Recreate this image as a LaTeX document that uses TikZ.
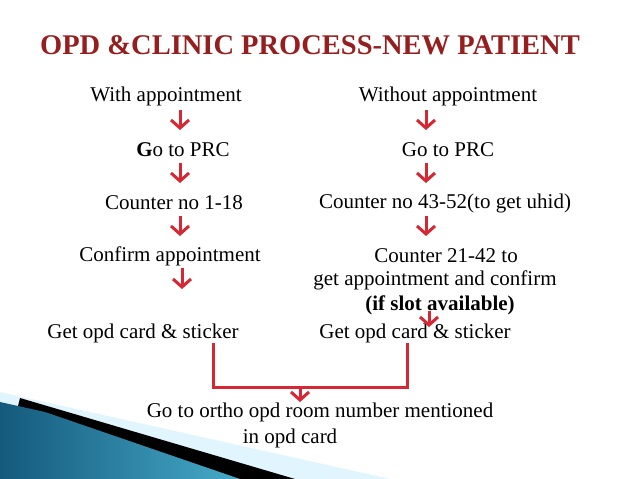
\documentclass[tikz,border=0pt]{standalone}
\usepackage{fontspec}
\setmainfont{Liberation Serif}
\usetikzlibrary{arrows.meta}
\definecolor{rd}{RGB}{214,40,52}
\definecolor{ttl}{RGB}{150,30,30}
\definecolor{tealA}{RGB}{20,90,125}
\definecolor{tealB}{RGB}{70,170,200}
\begin{document}
\begin{tikzpicture}[x=1pt,y=-1pt,
 t/.style={font=\fontsize{21}{24}\selectfont,inner sep=1pt},
 arr/.style={draw=rd,line width=3pt,-{Straight Barb[length=8pt,width=18pt,line width=3pt]}},
 conn/.style={draw=rd,line width=3pt}]
\useasboundingbox (0,0) rectangle (638,479);
\fill[white] (0,0) rectangle (638,479);
% decoration
\fill[cyan!12!white] (0,392) -- (390,479) -- (0,479) -- cycle;
\fill[black] (20,398) -- (295,479) -- (0,479) -- cycle;
\shade[left color=tealA, right color=tealB] (0,402) -- (45,412) -- (240,479) -- (0,479) -- cycle;
\node[font=\bfseries\fontsize{28.5}{32}\selectfont,text=ttl] (title) at (310,45) {OPD \&CLINIC PROCESS-NEW PATIENT};
% left
\node[t] (l1) at (166,96) {With appointment};
\node[t] (l2) at (183,150) {\textbf{G}o to PRC};
\node[t] (l3) at (174,203) {Counter no 1-18};
\node[t] (l4) at (170,256) {Confirm appointment};
\node[t] (l5) at (143,333) {Get opd card \& sticker};
% right
\node[t] (r1) at (448,96) {Without appointment};
\node[t] (r2) at (448,150) {Go to PRC};
\node[t] (r3) at (445,203) {Counter no 43-52(to get uhid)};
\node[t] (r4) at (446,256) {Counter 21-42 to};
\node[t] (r4b) at (435,280) {get appointment and confirm};
\node[t,font=\bfseries\fontsize{21}{24}\selectfont] (r4c) at (440,305) {(if slot available)};
\node[t] (r5) at (415,333) {Get opd card \& sticker};
\node[t] (b1) at (320,412) {Go to ortho opd room number mentioned};
\node[t] (b2) at (290,438) {in opd card};
% arrows
\coordinate (la1) at (180,110); \coordinate (la2) at (180,130);
\coordinate (la3) at (180,163); \coordinate (la4) at (180,183);
\coordinate (la5) at (180,216); \coordinate (la6) at (180,236);
\coordinate (la7) at (182,268); \coordinate (la8) at (182,289);
\coordinate (ra1) at (426,110); \coordinate (ra2) at (426,130);
\coordinate (ra3) at (426,163); \coordinate (ra4) at (426,183);
\coordinate (ra5) at (426,216); \coordinate (ra6) at (426,236);
\coordinate (ra7) at (429,311); \coordinate (ra8) at (429,327);
\foreach \a/\b in {la1/la2,la3/la4,la5/la6,la7/la8,ra1/ra2,ra3/ra4,ra5/ra6,ra7/ra8}
  \draw[arr] (\a) -- (\b);
% connector
\coordinate (c1) at (213,343); \coordinate (c2) at (213,387);
\coordinate (c3) at (407,387); \coordinate (c4) at (407,343);
\coordinate (cm) at (300,387); \coordinate (ce) at (300,402);
\draw[conn] (c1) -- (c2) -- (c3) -- (c4);
\draw[arr] (cm) -- (ce);
\end{tikzpicture}
\end{document}
